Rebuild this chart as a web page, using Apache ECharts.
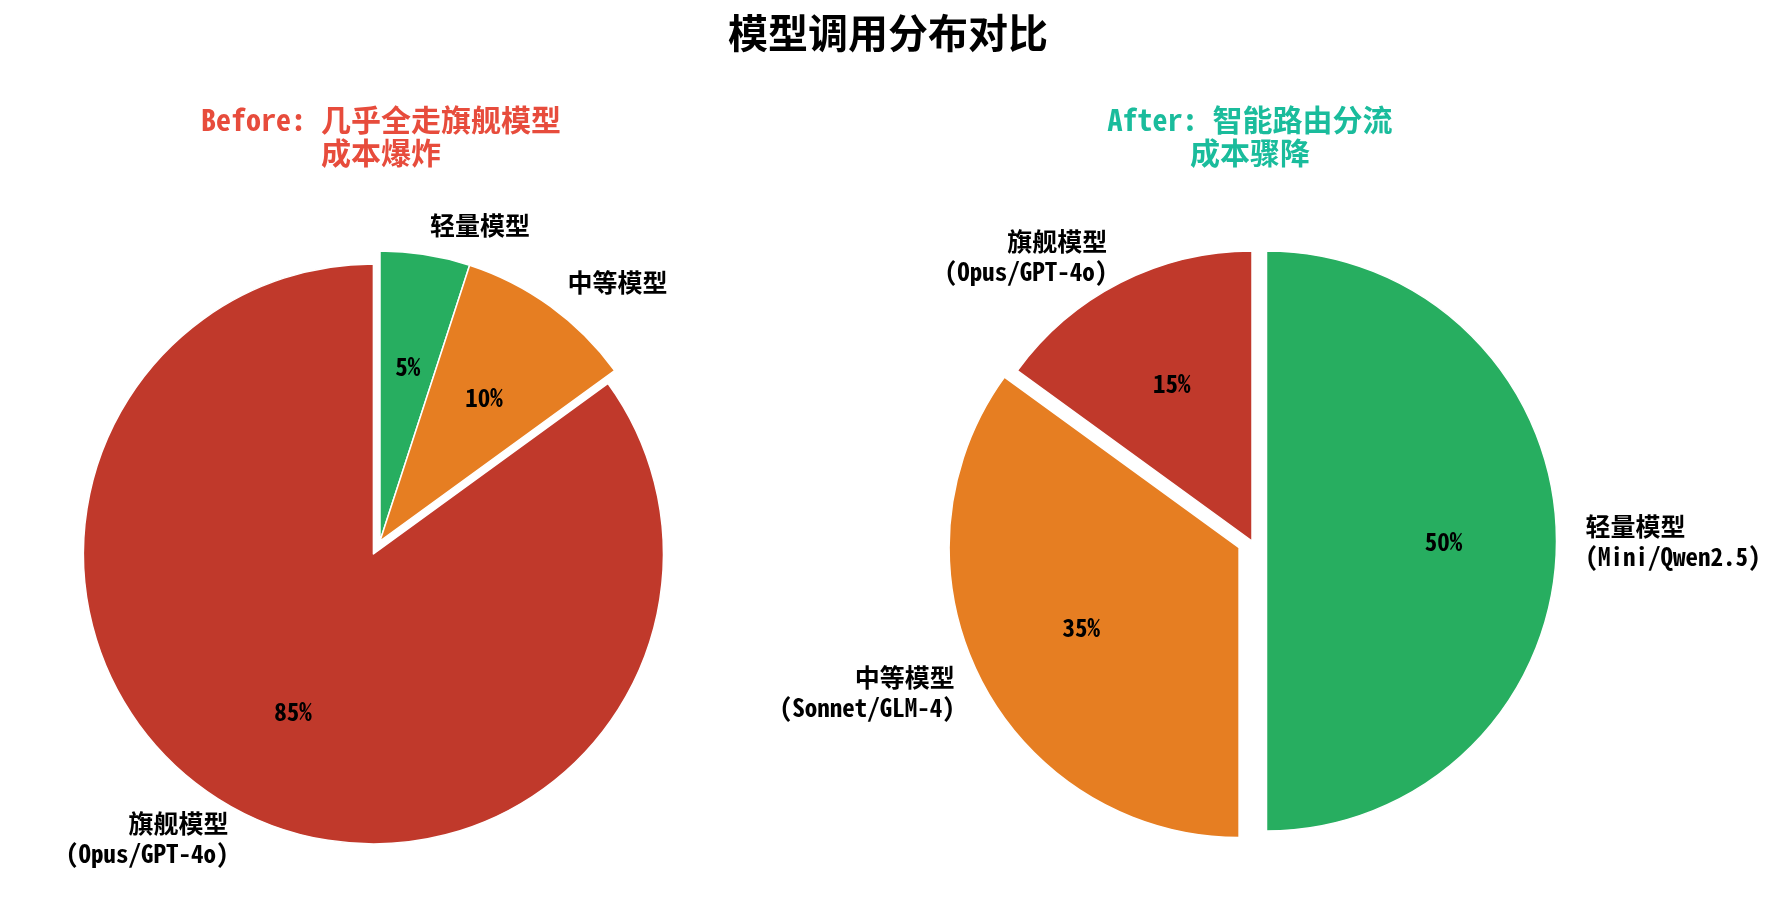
<!DOCTYPE html>
<html>
<head>
<meta charset="utf-8">
<script src="https://cdn.jsdelivr.net/npm/echarts@6/dist/echarts.min.js"></script>
<style>
  html, body { margin: 0; padding: 0; background: #fff; }
  #chart { width: 1776px; height: 921px; }
</style>
</head>
<body>
<div id="chart"></div>
<script>
// 数据
var categories = ['轻量模型', '中等模型', '旗舰模型'];
var beforeLabels = ['轻量模型', '中等模型', '旗舰模型\n(Opus/GPT-4o)'];
var afterLabels = ['轻量模型\n(Mini/Qwen2.5)', '中等模型\n(Sonnet/GLM-4)', '旗舰模型\n(Opus/GPT-4o)'];
var beforeValues = [5, 10, 85];
var afterValues = [50, 35, 15];
var beforeExplode = [false, false, true];
var afterExplode = [true, true, false];
var colors = ['#27ae60', '#e67e22', '#c0392b'];

var FONT = "'Noto Sans Mono CJK SC', 'Noto Sans CJK SC', 'DejaVu Sans Mono', monospace";
var R = 290;

function buildData(values, labels, explode, transparent) {
  var arr = [];
  for (var i = 0; i < values.length; i++) {
    arr.push({
      name: labels[i],
      value: values[i],
      selected: explode[i],
      itemStyle: transparent ? { color: 'rgba(0,0,0,0)', borderWidth: 0 } : { color: colors[i] }
    });
  }
  return arr;
}

function pieSeries(center, values, labels, explode) {
  // 主饼图 + 外侧名称
  var main = {
    type: 'pie',
    center: center,
    radius: [0, R],
    startAngle: 90,
    clockwise: true,
    silent: true,
    animation: false,
    avoidLabelOverlap: false,
    selectedMode: 'multiple',
    selectedOffset: 14.5,
    itemStyle: { borderColor: '#fff', borderWidth: 1.5 },
    select: { itemStyle: { borderColor: '#fff', borderWidth: 1.5 } },
    emphasis: { scale: false },
    label: {
      show: true,
      position: 'outside',
      formatter: '{b}',
      color: '#000',
      fontFamily: FONT,
      fontWeight: 'bold',
      fontSize: 25,
      lineHeight: 30,
      distanceToLabelLine: 0
    },
    labelLine: { show: false, length: R * 0.1, length2: 0 },
    data: buildData(values, labels, explode, false)
  };
  // 百分比标签 (透明层, 0.6R)
  var pct = {
    type: 'pie',
    center: center,
    radius: [0, R * 1.2],
    startAngle: 90,
    clockwise: true,
    silent: true,
    animation: false,
    avoidLabelOverlap: false,
    selectedMode: 'multiple',
    selectedOffset: 14.5,
    itemStyle: { color: 'rgba(0,0,0,0)', borderWidth: 0 },
    select: { itemStyle: { color: 'rgba(0,0,0,0)', borderWidth: 0 } },
    emphasis: { scale: false },
    label: {
      show: true,
      position: 'inside',
      formatter: '{c}%',
      color: '#000',
      fontFamily: FONT,
      fontWeight: 'bold',
      fontSize: 25
    },
    labelLine: { show: false },
    data: buildData(values, labels, explode, true)
  };
  return [main, pct];
}

var myChart = echarts.init(document.getElementById('chart'));
var option = {
  backgroundColor: '#fff',
  title: [
    {
      text: '模型调用分布对比',
      left: 'center',
      top: 5,
      textStyle: { fontFamily: FONT, fontWeight: 'bold', fontSize: 40, lineHeight: 46, color: '#000' }
    },
    {
      text: 'Before: 几乎全走旗舰模型\n成本爆炸',
      left: 376,
      textAlign: 'center',
      top: 98,
      textStyle: { fontFamily: FONT, fontWeight: 'bold', fontSize: 30, lineHeight: 33, color: '#e74c3c' }
    },
    {
      text: 'After: 智能路由分流\n成本骤降',
      left: 1245,
      textAlign: 'center',
      top: 98,
      textStyle: { fontFamily: FONT, fontWeight: 'bold', fontSize: 30, lineHeight: 33, color: '#1abc9c' }
    }
  ],
  series: [].concat(
    pieSeries([380, 541], beforeValues, beforeLabels, beforeExplode),
    pieSeries([1252, 541], afterValues, afterLabels, afterExplode)
  )
};
myChart.setOption(option);
</script>
</body>
</html>
